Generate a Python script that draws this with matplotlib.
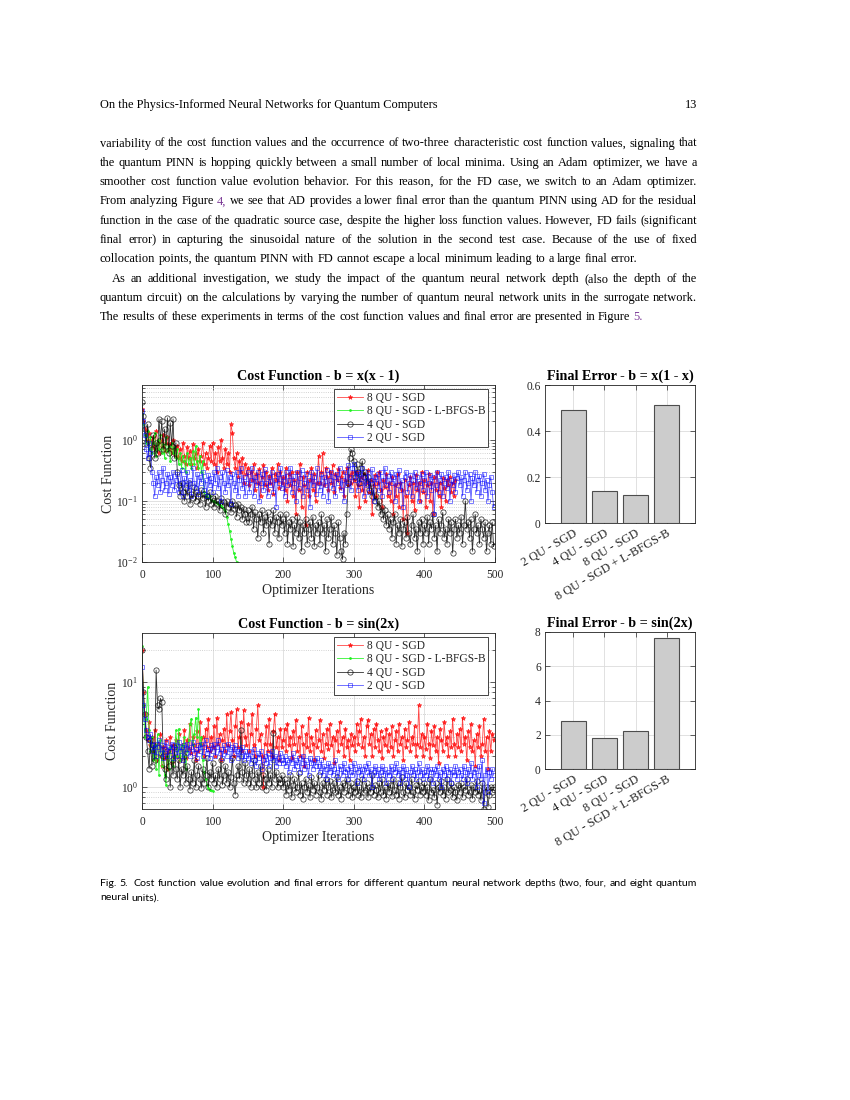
import re
import numpy as np
import matplotlib
matplotlib.use("Agg")
import matplotlib.pyplot as plt
from matplotlib.ticker import LogLocator, NullFormatter

plt.rcParams['font.family'] = ['Liberation Serif', 'DejaVu Serif']
plt.rcParams['mathtext.fontset'] = 'stix'

# ---------------- data ----------------
STEP = 2  # iteration spacing between stored samples

top_red = [
    3.2, 2.0, 1.5, 1.2, 0.9, 1.3, 1.0, 0.8, 1.1, 0.7, 1.4, 0.9, 0.6, 1.0, 0.75, 1.2, 0.65, 0.9, 1.1, 0.7, 0.85, 0.6, 1.0, 0.7, 0.55,
    0.8, 0.5, 0.7, 0.45, 0.9, 0.55, 0.4, 0.75, 0.5, 0.65, 0.4, 0.85, 0.5, 0.6, 0.35, 0.7, 0.45, 0.55, 0.9, 0.4, 0.6, 0.35, 0.5, 0.8, 0.45,
    0.9, 0.4, 0.6, 0.3, 0.75, 0.45, 1.0, 0.5, 0.35, 0.7, 0.4, 0.6, 0.3, 1.8, 1.3, 0.5, 0.35, 0.6, 0.25, 0.45, 0.3, 0.5, 0.2, 0.4, 0.28,
    0.35, 0.18, 0.3, 0.22, 0.4, 0.15, 0.28, 0.2, 0.33, 0.12, 0.25, 0.38, 0.18, 0.3, 0.15, 0.26, 0.2, 0.35, 0.13, 0.28, 0.22, 0.4, 0.16, 0.3, 0.2,
    0.25, 0.15, 0.35, 0.1, 0.28, 0.18, 0.3, 0.12, 0.22, 0.06, 0.3, 0.15, 0.4, 0.08, 0.25, 0.18, 0.04, 0.3, 0.12, 0.22, 0.35, 0.15, 0.28, 0.1, 0.2,
    0.55, 0.2, 0.3, 0.6, 0.18, 0.35, 0.25, 0.15, 0.3, 0.2, 0.38, 0.14, 0.28, 0.22, 0.33, 0.16, 0.25, 0.3, 0.12, 0.22, 0.35, 0.18, 0.27, 0.2, 0.3,
    0.22, 0.12, 0.3, 0.18, 0.08, 0.25, 0.15, 0.28, 0.1, 0.2, 0.32, 0.14, 0.22, 0.06, 0.18, 0.27, 0.12, 0.2, 0.3, 0.15, 0.08, 0.22, 0.17, 0.28, 0.12,
    0.2, 0.1, 0.25, 0.06, 0.18, 0.12, 0.28, 0.08, 0.2, 0.15, 0.05, 0.22, 0.12, 0.03, 0.18, 0.25, 0.1, 0.2, 0.07, 0.27, 0.15, 0.2, 0.1, 0.3, 0.14,
    0.22, 0.08, 0.18, 0.28, 0.1, 0.2, 0.06, 0.25, 0.15, 0.3, 0.12, 0.2, 0.08, 0.24, 0.16, 0.1, 0.22, 0.18, 0.25, 0.14, 0.2, 0.12, 0.22]
top_green = [
    2.6, 1.8, 1.2, 0.9, 1.4, 0.7, 1.1, 0.6, 0.9, 1.3, 0.55, 1.0, 0.7, 1.2, 0.6, 0.85, 0.5, 1.1, 0.65, 0.8, 0.45, 0.9, 0.6, 0.75, 0.5,
    0.7, 0.4, 0.6, 0.35, 0.55, 0.45, 0.3, 0.6, 0.4, 0.5, 0.35, 0.65, 0.4, 0.8, 0.45, 0.35, 0.55, 0.3, 0.45, 0.14, 0.12, 0.13, 0.11, 0.12, 0.105,
    0.1, 0.098, 0.095, 0.092, 0.09, 0.087, 0.084, 0.08, 0.075, 0.068, 0.055, 0.042, 0.032, 0.024, 0.018, 0.014, 0.012, 0.0099]
top_black = [
    4.2, 2.5, 1.5, 0.9, 1.8, 0.5, 0.35, 0.7, 1.2, 0.5, 0.9, 0.6, 2.2, 1.0, 2.0, 0.7, 1.5, 0.8, 2.3, 0.6, 1.9, 0.8, 2.2, 0.5, 0.9,
    0.3, 0.18, 0.12, 0.2, 0.14, 0.1, 0.16, 0.12, 0.2, 0.09, 0.13, 0.11, 0.17, 0.1, 0.14, 0.12, 0.09, 0.15, 0.11, 0.13, 0.08, 0.12, 0.1, 0.14, 0.09,
    0.11, 0.08, 0.12, 0.09, 0.1, 0.07, 0.11, 0.085, 0.095, 0.06, 0.1, 0.08, 0.09, 0.065, 0.1, 0.075, 0.085, 0.055, 0.09, 0.07, 0.08, 0.05, 0.075, 0.06, 0.045,
    0.07, 0.045, 0.06, 0.08, 0.035, 0.065, 0.05, 0.025, 0.06, 0.045, 0.07, 0.03, 0.055, 0.04, 0.065, 0.02, 0.05, 0.04, 0.07, 0.03, 0.055, 0.045, 0.025, 0.06, 0.04,
    0.05, 0.03, 0.06, 0.02, 0.045, 0.035, 0.05, 0.018, 0.04, 0.03, 0.055, 0.025, 0.045, 0.015, 0.04, 0.03, 0.05, 0.02, 0.035, 0.045, 0.025, 0.055, 0.018, 0.04, 0.03,
    0.045, 0.02, 0.06, 0.03, 0.04, 0.015, 0.05, 0.025, 0.035, 0.055, 0.02, 0.04, 0.03, 0.013, 0.045, 0.025, 0.015, 0.011, 0.03, 0.02, 0.06, 0.2, 0.5, 0.7, 0.6,
    0.45, 0.25, 0.4, 0.3, 0.2, 0.35, 0.45, 0.25, 0.3, 0.2, 0.25, 0.15, 0.2, 0.12, 0.15, 0.1, 0.12, 0.08, 0.1, 0.06, 0.08, 0.05, 0.07, 0.04, 0.06,
    0.035, 0.05, 0.025, 0.045, 0.06, 0.02, 0.04, 0.03, 0.05, 0.018, 0.035, 0.045, 0.025, 0.055, 0.03, 0.02, 0.04, 0.06, 0.025, 0.035, 0.015, 0.045, 0.03, 0.05, 0.02,
    0.04, 0.03, 0.055, 0.02, 0.045, 0.035, 0.06, 0.025, 0.04, 0.015, 0.05, 0.03, 0.04, 0.065, 0.025, 0.035, 0.02, 0.05, 0.03, 0.045, 0.014, 0.035, 0.05, 0.025, 0.04,
    0.03, 0.055, 0.02, 0.04, 0.1, 0.035, 0.045, 0.025, 0.05, 0.015, 0.035, 0.06, 0.03, 0.04, 0.02, 0.05, 0.035, 0.025, 0.045, 0.015, 0.03, 0.04, 0.02, 0.045, 0.018]
top_blue = [
    3.0, 2.0, 1.2, 0.7, 0.5, 0.9, 0.6, 0.3, 0.2, 0.12, 0.25, 0.18, 0.3, 0.14, 0.22, 0.35, 0.15, 0.2, 0.28, 0.13, 0.25, 0.18, 0.3, 0.15, 0.22,
    0.28, 0.14, 0.2, 0.32, 0.12, 0.24, 0.18, 0.3, 0.15, 0.22, 0.12, 0.35, 0.2, 0.16, 0.28, 0.13, 0.25, 0.2, 0.3, 0.15, 0.22, 0.12, 0.27, 0.18, 0.24,
    0.14, 0.3, 0.2, 0.35, 0.16, 0.25, 0.1, 0.3, 0.2, 0.14, 0.32, 0.18, 0.25, 0.09, 0.28, 0.2, 0.15, 0.3, 0.12, 0.22, 0.35, 0.16, 0.25, 0.12, 0.2,
    0.3, 0.14, 0.22, 0.35, 0.12, 0.25, 0.18, 0.3, 0.1, 0.2, 0.28, 0.15, 0.33, 0.2, 0.12, 0.25, 0.18, 0.3, 0.14, 0.22, 0.08, 0.28, 0.2, 0.35, 0.16,
    0.25, 0.12, 0.3, 0.18, 0.22, 0.35, 0.14, 0.26, 0.2, 0.1, 0.3, 0.16, 0.24, 0.32, 0.12, 0.2, 0.28, 0.15, 0.22, 0.08, 0.3, 0.18, 0.25, 0.13, 0.34,
    0.2, 0.15, 0.28, 0.12, 0.25, 0.18, 0.32, 0.1, 0.22, 0.3, 0.16, 0.25, 0.12, 0.28, 0.2, 0.35, 0.15, 0.22, 0.1, 0.3, 0.18, 0.38, 0.25, 0.15, 0.35,
    0.4, 0.22, 0.3, 0.15, 0.28, 0.2, 0.35, 0.12, 0.25, 0.18, 0.3, 0.14, 0.22, 0.33, 0.1, 0.25, 0.2, 0.28, 0.15, 0.3, 0.12, 0.22, 0.35, 0.18, 0.26,
    0.14, 0.3, 0.2, 0.25, 0.1, 0.28, 0.18, 0.32, 0.15, 0.22, 0.08, 0.25, 0.3, 0.14, 0.2, 0.27, 0.12, 0.22, 0.3, 0.16, 0.25, 0.1, 0.2, 0.28, 0.15,
    0.22, 0.3, 0.12, 0.2, 0.27, 0.15, 0.25, 0.06, 0.18, 0.3, 0.14, 0.22, 0.28, 0.12, 0.2, 0.25, 0.16, 0.3, 0.1, 0.22, 0.18, 0.27, 0.14, 0.24, 0.3,
    0.18, 0.25, 0.12, 0.22, 0.3, 0.15, 0.2, 0.28, 0.1, 0.24, 0.18, 0.3, 0.14, 0.22, 0.26, 0.12, 0.2, 0.28, 0.15, 0.22, 0.1, 0.18, 0.25, 0.14, 0.08]

bot_red = [
    20, 8, 5, 3.5, 2.8, 4.2, 2.5, 3.0, 2.2, 3.5, 1.8, 2.6, 2.0, 3.2, 1.6, 2.4, 1.9, 2.8, 1.5, 2.2, 3.0, 1.7, 2.5, 2.0, 2.8,
    2.0, 3.2, 1.8, 2.5, 2.2, 3.5, 1.9, 2.8, 2.3, 4.0, 2.1, 3.0, 2.5, 1.8, 3.4, 2.2, 4.2, 2.6, 3.0, 2.0, 3.6, 2.4, 4.5, 2.2, 3.0,
    2.4, 3.8, 2.0, 4.6, 2.6, 3.2, 1.8, 2.8, 3.6, 2.2, 5.0, 2.5, 3.4, 5.2, 2.8, 2.0, 3.8, 5.5, 2.4, 3.0, 4.2, 2.2, 5.4, 3.0, 2.5,
    4.0, 2.2, 3.2, 5.0, 2.5, 2.0, 3.6, 6.0, 2.8, 3.2, 2.0, 1.0, 2.6, 3.8, 2.2, 4.5, 2.6, 2.0, 3.4, 5.0, 2.4, 3.0, 1.8, 3.6, 2.4,
    2.8, 3.6, 2.2, 4.0, 2.5, 3.0, 1.9, 3.4, 2.6, 4.4, 2.2, 3.0, 2.0, 3.8, 2.6, 1.6, 3.2, 2.4, 4.6, 2.2, 3.0, 2.6, 1.8, 3.5, 2.4,
    2.8, 4.4, 2.2, 3.2, 1.9, 2.6, 3.6, 2.3, 4.0, 2.5, 3.0, 1.7, 2.8, 3.4, 2.2, 4.2, 2.6, 3.0, 2.0, 3.6, 2.4, 2.8, 1.8, 3.2, 2.5,
    3.0, 2.2, 4.0, 2.6, 3.4, 4.5, 2.4, 3.0, 2.0, 3.8, 4.4, 2.6, 3.2, 2.0, 3.6, 2.4, 4.0, 2.8, 2.2, 3.4, 1.9, 3.0, 2.5, 3.6, 2.2,
    3.2, 2.4, 3.8, 2.0, 2.8, 3.4, 2.2, 4.0, 2.6, 3.0, 1.8, 3.6, 2.4, 2.8, 4.2, 2.2, 3.0, 2.6, 3.8, 2.0, 2.6, 6.0, 2.4, 3.2, 2.0,
    3.0, 2.3, 4.0, 2.6, 1.9, 3.4, 2.5, 3.8, 2.2, 3.0, 1.7, 3.6, 2.8, 2.2, 4.2, 2.6, 3.0, 2.0, 3.4, 2.4, 4.5, 2.6, 2.0, 3.2, 2.4,
    3.6, 2.2, 4.6, 2.6, 3.0, 1.8, 3.4, 2.4, 4.0, 2.2, 2.8, 1.6, 3.2, 2.4, 3.8, 2.0, 2.6, 4.5, 2.2, 3.0, 1.5, 3.4, 2.2, 3.2, 2.8]
bot_green = [
    22, 6, 3.0, 4.5, 9.0, 3.5, 2.2, 3.0, 1.8, 2.5, 1.5, 3.2, 1.3, 2.8, 1.6, 2.2, 1.3, 1.05, 2.0, 1.5, 2.4, 1.8, 1.6, 2.0, 3.5,
    2.0, 3.6, 1.8, 2.5, 2.0, 3.0, 1.5, 2.2, 2.8, 4.0, 4.5, 2.5, 3.2, 4.6, 3.0, 5.5, 2.6, 3.0, 1.8, 1.4, 1.2, 1.05, 0.98, 0.95, 0.93,
    0.92]
bot_black = [
    20, 8, 5.0, 3.0, 2.2, 1.5, 2.8, 1.6, 2.5, 1.8, 13, 6.0, 5.5, 7.0, 6.5, 2.0, 1.5, 1.2, 2.2, 1.6, 1.0, 1.8, 1.3, 2.4, 1.5,
    1.2, 1.8, 1.0, 1.5, 1.3, 2.0, 1.1, 1.6, 1.2, 0.95, 1.4, 1.1, 1.8, 1.0, 1.3, 1.6, 1.2, 0.98, 1.5, 1.1, 1.3, 1.9, 1.0, 1.4, 1.2,
    1.7, 1.1, 1.3, 1.0, 1.5, 1.2, 1.8, 1.05, 1.3, 1.6, 1.1, 1.4, 1.0, 1.25, 1.9, 1.1, 0.85, 1.3, 1.6, 1.2, 3.5, 1.4, 1.1, 1.7, 1.3,
    1.1, 1.5, 1.0, 1.3, 1.8, 1.2, 1.0, 1.4, 1.1, 1.6, 1.0, 1.3, 1.2, 0.95, 1.5, 1.1, 1.3, 1.0, 3.3, 1.2, 1.4, 1.0, 1.2, 1.1, 1.3,
    1.0, 1.2, 0.85, 1.1, 0.95, 1.3, 0.8, 1.05, 1.2, 0.9, 1.0, 1.35, 0.85, 1.1, 0.78, 1.0, 1.2, 0.9, 1.05, 0.8, 1.25, 0.95, 1.1, 0.85, 1.0,
    1.3, 0.9, 0.78, 1.1, 0.95, 1.2, 0.85, 1.0, 1.15, 0.8, 0.95, 1.1, 0.9, 1.25, 0.85, 1.0, 0.78, 1.1, 0.9, 1.05, 1.2, 0.85, 0.95, 1.1, 0.8,
    1.0, 0.9, 1.15, 0.85, 1.0, 0.8, 1.2, 0.9, 0.95, 1.1, 0.8, 1.0, 0.9, 1.3, 0.85, 1.05, 0.95, 0.8, 1.1, 0.9, 1.2, 0.85, 1.0, 0.78, 1.1,
    0.9, 1.05, 0.82, 1.2, 0.95, 0.85, 1.1, 0.78, 1.0, 1.25, 0.9, 0.8, 1.1, 0.95, 1.0, 0.85, 1.2, 0.9, 0.78, 1.05, 0.95, 1.15, 0.85, 1.0, 0.9,
    1.1, 0.85, 1.0, 0.75, 1.2, 0.9, 0.95, 0.8, 1.1, 0.68, 1.0, 0.9, 1.15, 0.85, 1.0, 0.78, 1.2, 0.9, 0.95, 1.1, 0.8, 1.0, 0.9, 0.75, 1.05,
    0.9, 1.1, 0.8, 1.0, 0.95, 1.2, 0.85, 0.9, 1.05, 0.78, 1.0, 0.9, 1.15, 0.85, 0.95, 0.75, 1.1, 0.62, 0.9, 1.0, 0.65, 0.85, 1.0, 0.9, 1.0]
bot_blue = [
    14, 6, 4.5, 3.5, 3.0, 2.8, 3.2, 2.5, 2.2, 2.6, 2.0, 2.4, 2.8, 2.1, 2.5, 1.9, 2.3, 2.7, 2.0, 2.4, 2.2, 2.6, 1.9, 2.5, 2.3,
    2.0, 2.7, 2.2, 2.4, 1.8, 2.5, 2.1, 2.6, 2.3, 2.0, 2.4, 2.7, 2.1, 2.3, 1.9, 2.5, 2.2, 2.6, 2.0, 2.4, 2.8, 2.1, 2.3, 1.9, 2.5,
    2.2, 2.6, 2.0, 2.4, 2.8, 2.1, 2.3, 1.9, 2.5, 2.2, 2.0, 2.6, 2.3, 1.8, 2.4, 2.1, 2.5, 2.2, 1.9, 2.3, 2.0, 2.4, 1.8, 2.2, 2.0,
    1.9, 2.2, 1.7, 2.0, 2.3, 1.8, 1.6, 2.1, 1.9, 2.2, 1.5, 1.8, 2.0, 1.7, 2.1, 1.6, 1.9, 2.2, 1.8, 2.0, 1.6, 1.9, 1.7, 2.1, 1.8,
    1.7, 2.0, 1.6, 1.8, 1.4, 1.9, 1.7, 2.1, 1.5, 1.8, 1.6, 1.9, 1.4, 1.7, 2.0, 1.5, 1.8, 1.6, 1.3, 1.9, 1.7, 1.5, 1.8, 1.6, 1.9,
    1.6, 1.4, 1.8, 1.3, 1.6, 1.5, 1.2, 1.7, 1.4, 1.6, 1.3, 1.5, 1.8, 1.4, 1.2, 1.6, 1.5, 1.3, 1.7, 1.4, 1.5, 1.2, 1.6, 1.4, 1.3,
    1.7, 1.5, 1.1, 1.4, 1.6, 1.3, 1.5, 1.2, 1.6, 1.4, 1.7, 1.3, 1.5, 1.0, 1.4, 1.6, 1.3, 1.5, 1.2, 1.4, 1.6, 1.3, 1.5, 1.1, 1.4,
    1.3, 1.6, 1.2, 1.5, 1.4, 1.7, 1.3, 1.5, 1.1, 1.4, 1.6, 1.2, 1.5, 1.3, 1.0, 1.4, 1.6, 1.3, 1.5, 1.2, 1.4, 1.7, 1.3, 1.5, 1.2,
    1.4, 1.3, 1.6, 1.2, 1.5, 1.4, 1.1, 1.5, 1.3, 1.6, 1.2, 1.4, 1.0, 1.5, 1.3, 1.6, 1.2, 1.4, 1.5, 1.1, 1.4, 1.3, 1.6, 1.2, 1.4,
    1.5, 1.3, 1.2, 1.6, 1.4, 1.1, 1.5, 1.3, 1.7, 1.2, 1.4, 1.5, 1.0, 1.3, 1.6, 1.2, 1.8, 0.7, 1.3, 1.5, 0.9, 1.4, 1.2, 1.5, 1.3]

series_labels = ['8 QU - SGD', '8 QU - SGD - L-BFGS-B', '4 QU - SGD', '2 QU - SGD']
bar_labels = ['2 QU - SGD', '4 QU - SGD', '8 QU - SGD', '8 QU - SGD + L-BFGS-B']
bar_top = [0.491, 0.139, 0.122, 0.513]
bar_bot = [2.78, 1.81, 2.24, 7.67]

header_left = "On the Physics-Informed Neural Networks for Quantum Computers"
header_right = "13"
para1 = [
    "variability of the cost function values and the occurrence of two-three characteristic cost function values, signaling that",
    "the quantum PINN is hopping quickly between a small number of local minima. Using an Adam optimizer, we have a",
    "smoother cost function value evolution behavior. For this reason, for the FD case, we switch to an Adam optimizer.",
    "From analyzing Figure [4,] we see that AD provides a lower final error than the quantum PINN using AD for the residual",
    "function in the case of the quadratic source case, despite the higher loss function values. However, FD fails (significant",
    "final error) in capturing the sinusoidal nature of the solution in the second test case. Because of the use of fixed",
    "collocation points, the quantum PINN with FD cannot escape a local minimum leading to a large final error.",
]
para2 = [
    "As an additional investigation, we study the impact of the quantum neural network depth (also the depth of the",
    "quantum circuit) on the calculations by varying the number of quantum neural network units in the surrogate network.",
    "The results of these experiments in terms of the cost function values and final error are presented in Figure [5.]",
]
caption = [
    "Fig. 5.  Cost function value evolution and final errors for different quantum neural network depths (two, four, and eight quantum",
    "neural units).",
]

# ---------------- figure ----------------
W, H = 850, 1100
fig = plt.figure(figsize=(W / 100, H / 100), dpi=100)
DARK = (0.15, 0.15, 0.15)
PURPLE = '#7d3c98'


def ax_rect(l, t, r, b):
    return [l / W, 1 - b / H, (r - l) / W, (b - t) / H]


def style(ax, xpad=3, xsize=8.3):
    for s in ax.spines.values():
        s.set_color(DARK)
        s.set_linewidth(0.6)
    ax.tick_params(which='both', direction='in', top=True, right=True,
                   colors=DARK, labelsize=8.3, width=0.5)
    ax.tick_params(which='major', length=3.5, pad=3)
    ax.tick_params(axis='x', which='major', pad=xpad, labelsize=xsize)
    ax.tick_params(which='minor', length=2)


def cost_plot(rect, data, ylim, title):
    ax = fig.add_axes(rect)
    specs = [
        dict(color='red', marker='*', ms=3.4, mfc='red', alpha=0.72),
        dict(color=(0.1, 0.95, 0.1), marker='.', ms=2.8, mfc=(0.1, 0.95, 0.1), alpha=0.9),
        dict(color='black', marker='o', ms=3.8, mfc='none', alpha=0.8),
        dict(color='blue', marker='s', ms=3.1, mfc='none', alpha=0.65),
    ]
    for vals, spec, lab in zip(data, specs, series_labels):
        x = np.arange(len(vals)) * STEP
        ax.plot(x, vals, lw=0.6, mew=0.55, label=lab, **spec)
    ax.set_yscale('log')
    ax.set_xlim(0, 500)
    ax.set_ylim(*ylim)
    ax.set_xticks([0, 100, 200, 300, 400, 500])
    ax.yaxis.set_major_locator(LogLocator(base=10, numticks=10))
    ax.yaxis.set_minor_locator(LogLocator(base=10, subs=np.arange(2, 10), numticks=20))
    ax.yaxis.set_minor_formatter(NullFormatter())
    ax.grid(True, which='major', color='#dcdcdc', lw=0.6, ls='-')
    ax.grid(True, which='minor', axis='y', color='#c4c4c4', lw=0.6, ls=':')
    ax.set_axisbelow(True)
    style(ax, xpad=5)
    ax.set_title(title, fontsize=10.2, fontweight='bold', pad=4)
    ax.set_xlabel('Optimizer Iterations', fontsize=10, labelpad=2, color=DARK)
    ax.set_ylabel('Cost Function', fontsize=10, labelpad=1, color=DARK)
    leg = ax.legend(loc='upper right', bbox_to_anchor=(1 - 7 / 353, 1 - 4 / 177),
                    borderaxespad=0, fontsize=8.3, numpoints=1, handlelength=2.3,
                    handletextpad=0.3, labelspacing=0.12, borderpad=0.25,
                    fancybox=False, framealpha=1, edgecolor=DARK)
    leg.get_frame().set_linewidth(0.6)
    for t in leg.get_texts():
        t.set_color(DARK)
    return ax


def bar_plot(rect, vals, ylim, yticks, yticklabels, title):
    ax = fig.add_axes(rect)
    pos = np.arange(1, len(vals) + 1)
    ax.bar(pos, vals, width=0.8, color=(0.8, 0.8, 0.8), edgecolor=(0.3, 0.3, 0.3),
           linewidth=0.8, zorder=3)
    ax.set_xlim(0.1, 4.9)
    ax.set_ylim(*ylim)
    ax.set_xticks(pos)
    ax.set_xticklabels(bar_labels, rotation=30, ha='right', rotation_mode='anchor')
    ax.set_yticks(yticks)
    ax.set_yticklabels(yticklabels)
    ax.grid(True, which='major', color='#dcdcdc', lw=0.6, ls='-')
    ax.set_axisbelow(True)
    style(ax, xpad=3, xsize=8.9)
    ax.set_title(title, fontsize=10.2, fontweight='bold', pad=4)
    return ax


cost_plot(ax_rect(142, 385, 495, 562), [top_red, top_green, top_black, top_blue],
          (1e-2, 7.9), 'Cost Function - b = x(x - 1)')
bar_plot(ax_rect(545, 385, 695, 523), bar_top, (0, 0.6), [0, 0.2, 0.4, 0.6],
         ['0', '0.2', '0.4', '0.6'], 'Final Error - b = x(1 - x)')
cost_plot(ax_rect(142, 633, 495, 809), [bot_red, bot_green, bot_black, bot_blue],
          (0.62, 29.3), 'Cost Function - b = sin(2x)')
bar_plot(ax_rect(545, 632, 695, 769), bar_bot, (0, 8), [0, 2, 4, 6, 8],
         ['0', '2', '4', '6', '8'], 'Final Error - b = sin(2x)')

# ---------------- page text ----------------
renderer = fig.canvas.get_renderer()
SERIF = ['Liberation Serif', 'DejaVu Serif']
SANS = ['Lato', 'DejaVu Sans']
X0, X1 = 100, 697


def parse(word):
    segs = []
    for part in re.split(r'(\[[^\]]*\])', word):
        if not part:
            continue
        if part.startswith('['):
            segs.append((part[1:-1], PURPLE))
        else:
            segs.append((part, 'black'))
    return segs


def ink_width(s, size, family):
    t = fig.text(0, 0, s, fontsize=size, family=family)
    w = t.get_window_extent(renderer).width
    t.remove()
    return w


def advance(s, size, family):
    # pen advance of s, measured between two bar glyphs
    return ink_width('|' + s + '|', size, family) - ink_width('||', size, family)


def draw_line(line, x0, x1, ybase, size, family, justify, extra=None):
    words = [w for w in line.split(' ') if w]
    items = []
    for w in words:
        segs = []
        for txt, col in parse(w):
            t = fig.text(0, 1 - ybase / H, txt, fontsize=size, family=family,
                         color=col, va='baseline', ha='left')
            segs.append((t, advance(txt, size, family)))
        items.append(segs)
    widths = [sum(wd for _, wd in s) for s in items]
    extra = extra or {}
    extra_total = sum(extra.values())
    if justify and len(items) > 1:
        gap = (x1 - x0 - sum(widths) - extra_total) / (len(items) - 1)
    else:
        gap = advance(' ', size, family)
    x = x0
    for k, (segs, ws) in enumerate(zip(items, widths)):
        xx = x
        for t, wd in segs:
            t.set_x(xx / W)
            xx += wd
        x += ws + gap + extra.get(k, 0)


ref_size = 10.0
body_lines = para1[:-1] + para2[:-1]
maxw = max(advance(l.replace('[', '').replace(']', ''), ref_size, SERIF) for l in body_lines)
body_size = ref_size * (X1 - X0) / maxw * 0.99

fig.text(X0 / W, 1 - 108 / H, header_left, fontsize=body_size, family=SERIF, va='baseline')
fig.text(X1 / W, 1 - 108 / H, header_right, fontsize=body_size, family=SERIF, va='baseline', ha='right')

y0, dy = 146.5, 19.33
for i, line in enumerate(para1):
    draw_line(line, X0, X1, y0 + i * dy, body_size, SERIF, i < len(para1) - 1)
for j, line in enumerate(para2):
    xs = X0 + 12 if j == 0 else X0
    draw_line(line, xs, X1, y0 + (len(para1) + j) * dy, body_size, SERIF, j < len(para2) - 1)

cap_w = advance(caption[0], ref_size, SANS)
cap_size = ref_size * (X1 - X0) / cap_w * 0.985
draw_line(caption[0], X0, X1, 885.5, cap_size, SANS, True, extra={1: 3})
draw_line(caption[1], X0, X1, 900.5, cap_size, SANS, False)

fig.savefig('out.png', dpi=100)
